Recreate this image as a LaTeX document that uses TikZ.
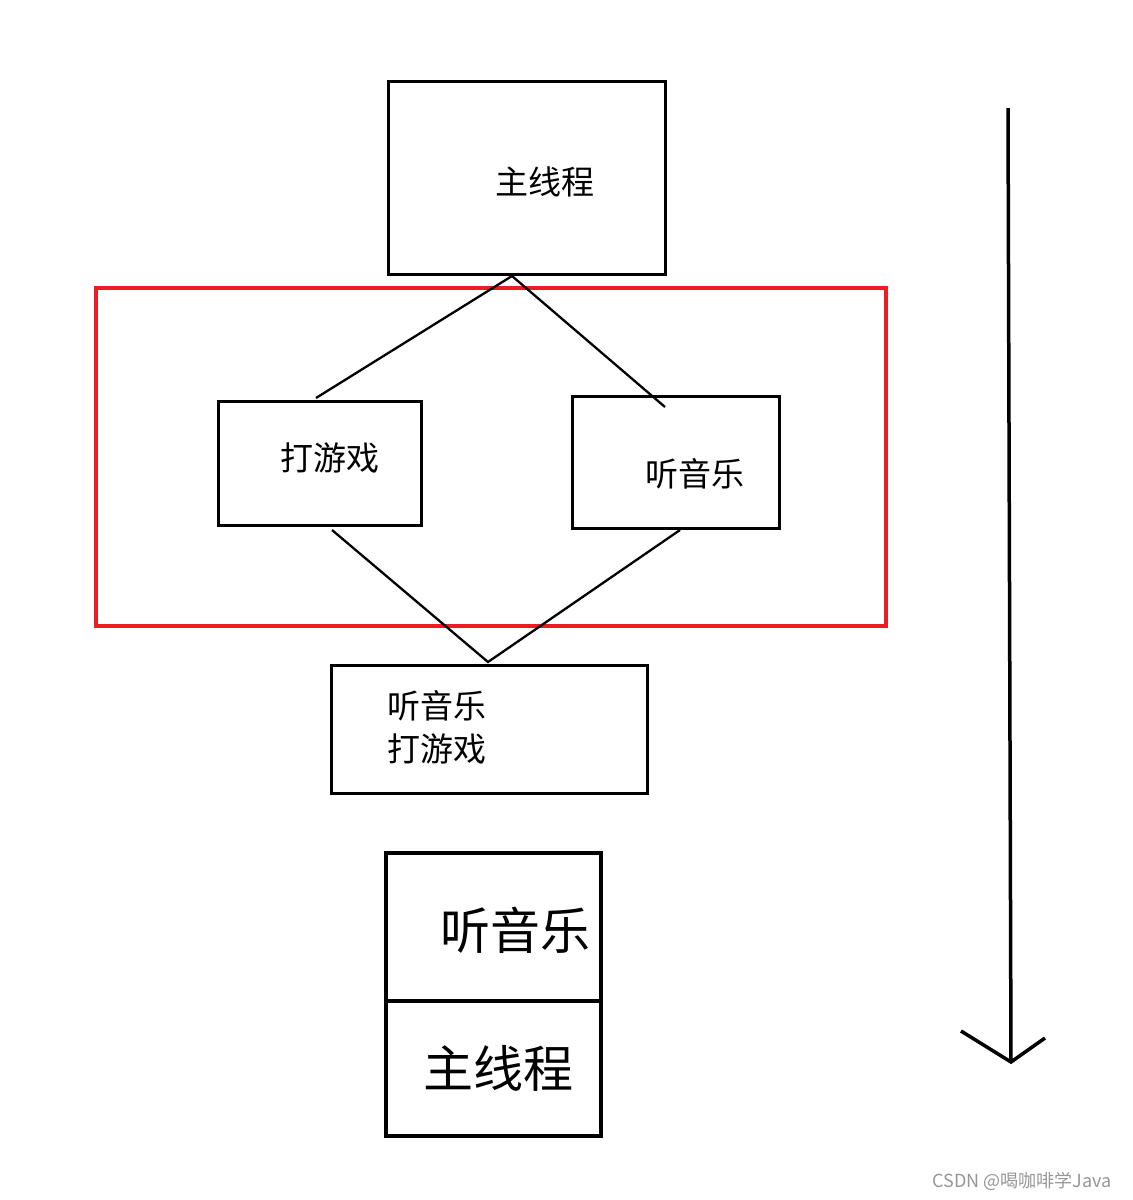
\documentclass[tikz,border=0pt]{standalone}
\usepackage{fontspec}
\newfontfamily\cjk{Noto Sans CJK SC}
\begin{document}
\begin{tikzpicture}[x=1pt,y=-1pt,
  box/.style={draw=black,line width=3pt},
  thick box/.style={draw=black,line width=4pt},
  conn/.style={draw=black,line width=2.3pt},
  lbl/.style={font=\cjk\fontsize{33}{40}\selectfont,inner sep=0pt},
  big/.style={font=\cjk\fontsize{50}{58}\selectfont,inner sep=0pt}]
\useasboundingbox (0,0) rectangle (1133,1200);
\draw[box] (388,81) rectangle (665,274);
\node[lbl] (main) at (545,182) {主线程};
\draw[draw={rgb,255:red,237;green,28;blue,36},line width=3.8pt] (96,288) rectangle (886,626);
\draw[box] (218,401) rectangle (421,525);
\node[lbl] (game) at (330,458) {打游戏};
\draw[box] (572,396) rectangle (779,528);
\node[lbl] (music) at (695,474) {听音乐};
\coordinate (top) at (512,276);
\coordinate (ga) at (316,398);
\coordinate (mu) at (665,407);
\coordinate (gb) at (332,530);
\coordinate (mb) at (680,530);
\coordinate (bot) at (488,662);
\draw[conn] (ga) -- (top) -- (mu);
\draw[conn] (gb) -- (bot) -- (mb);
\draw[box] (331,665) rectangle (647,793);
\node[lbl,anchor=west] (m2) at (387,706) {听音乐};
\node[lbl,anchor=west] (g2) at (387,749) {打游戏};
\draw[thick box] (386,853) rectangle (601,1136);
\draw[line width=4pt] (386,1001) -- (601,1001);
\node[big] (m3) at (515,930) {听音乐};
\node[big] (t3) at (498,1068) {主线程};
\coordinate (as) at (1008,108);
\coordinate (ae) at (1011,1062);
\draw[line width=3.5pt] (as) -- (ae);
\draw[line width=3.5pt] (961,1031) -- (ae) -- (1045,1038);
\node[font=\cjk\fontsize{18}{21}\selectfont,text={rgb,255:red,150;green,150;blue,150},inner sep=0pt] (wm) at (1022,1181) {CSDN @喝咖啡学Java};
\end{tikzpicture}
\end{document}
